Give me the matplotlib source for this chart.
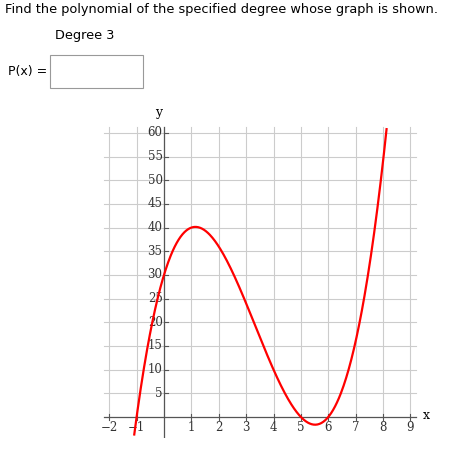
import numpy as np
import matplotlib
matplotlib.use('Agg')
import matplotlib.pyplot as plt
import matplotlib.patches as patches

# polynomial: P(x) = (x+1)(x-5)(x-6)
roots = [-1, 5, 6]
x_ticks = [-2, -1, 1, 2, 3, 4, 5, 6, 7, 8, 9]
y_ticks = [5, 10, 15, 20, 25, 30, 35, 40, 45, 50, 55, 60]
question = 'Find the polynomial of the specified degree whose graph is shown.'
degree_text = 'Degree 3'

fig = plt.figure(figsize=(4.52, 4.5), dpi=100)

# header texts
fig.text(5 / 452, 1 - 10 / 450, question, fontsize=9.3, va='center', ha='left', family='DejaVu Sans')
fig.text(55 / 452, 1 - 35 / 450, degree_text, fontsize=9.3, va='center', ha='left', family='DejaVu Sans')
fig.text(8 / 452, 1 - 72 / 450, 'P(x) =', fontsize=9, va='center', ha='left', family='DejaVu Sans')
fig.add_artist(patches.Rectangle((50 / 452, 1 - 88 / 450), 93 / 452, 33 / 450,
                                 transform=fig.transFigure, fill=False,
                                 edgecolor='#999999', linewidth=0.8))

ax = fig.add_axes([0.2265, 0.026, 0.7027, 0.705])
ax.set_xlim(-2.25, 9.35)
ax.set_ylim(-4.5, 62.5)
ax.axis('off')

# grid
for gx in list(range(-2, 10)):
    ax.plot([gx, gx], [0, 61.3], color='#cccccc', lw=0.8, zorder=1)
for gy in y_ticks:
    ax.plot([-2.2, 9.2], [gy, gy], color='#cccccc', lw=0.8, zorder=1)

# axes
ax.plot([-2.2, 9.2], [0, 0], color='#555555', lw=0.9, zorder=2)
ax.plot([0, 0], [-4.5, 61.3], color='#555555', lw=0.9, zorder=2)
for tx in x_ticks:
    ax.plot([tx, tx], [-0.6, 0.6], color='#555555', lw=0.8, zorder=2)
    ax.text(tx, -2.2, str(tx).replace('-', '\u2212'), ha='center', va='center',
            fontsize=8.5, family='DejaVu Serif', color='#333333')
for ty in y_ticks:
    ax.plot([0, 0.15], [ty, ty], color='#555555', lw=0.8, zorder=2)
    ax.text(-0.05, ty, str(ty), ha='right', va='center', fontsize=8.5,
            family='DejaVu Serif', color='#333333')
ax.text(9.6, 0.3, 'x', ha='center', va='center', fontsize=9, family='DejaVu Serif', clip_on=False)
ax.text(-0.2, 64.4, 'y', ha='center', va='center', fontsize=9, family='DejaVu Serif', clip_on=False)

# curve
coeffs = np.poly(roots)
xs = np.linspace(-1.3, 8.2, 400)
ys = np.polyval(coeffs, xs)
mask = (ys <= 61.3) & (ys >= -4.5)
ax.plot(xs[mask], ys[mask], color='red', lw=1.6, zorder=3)

fig.savefig('out.png', dpi=100)
